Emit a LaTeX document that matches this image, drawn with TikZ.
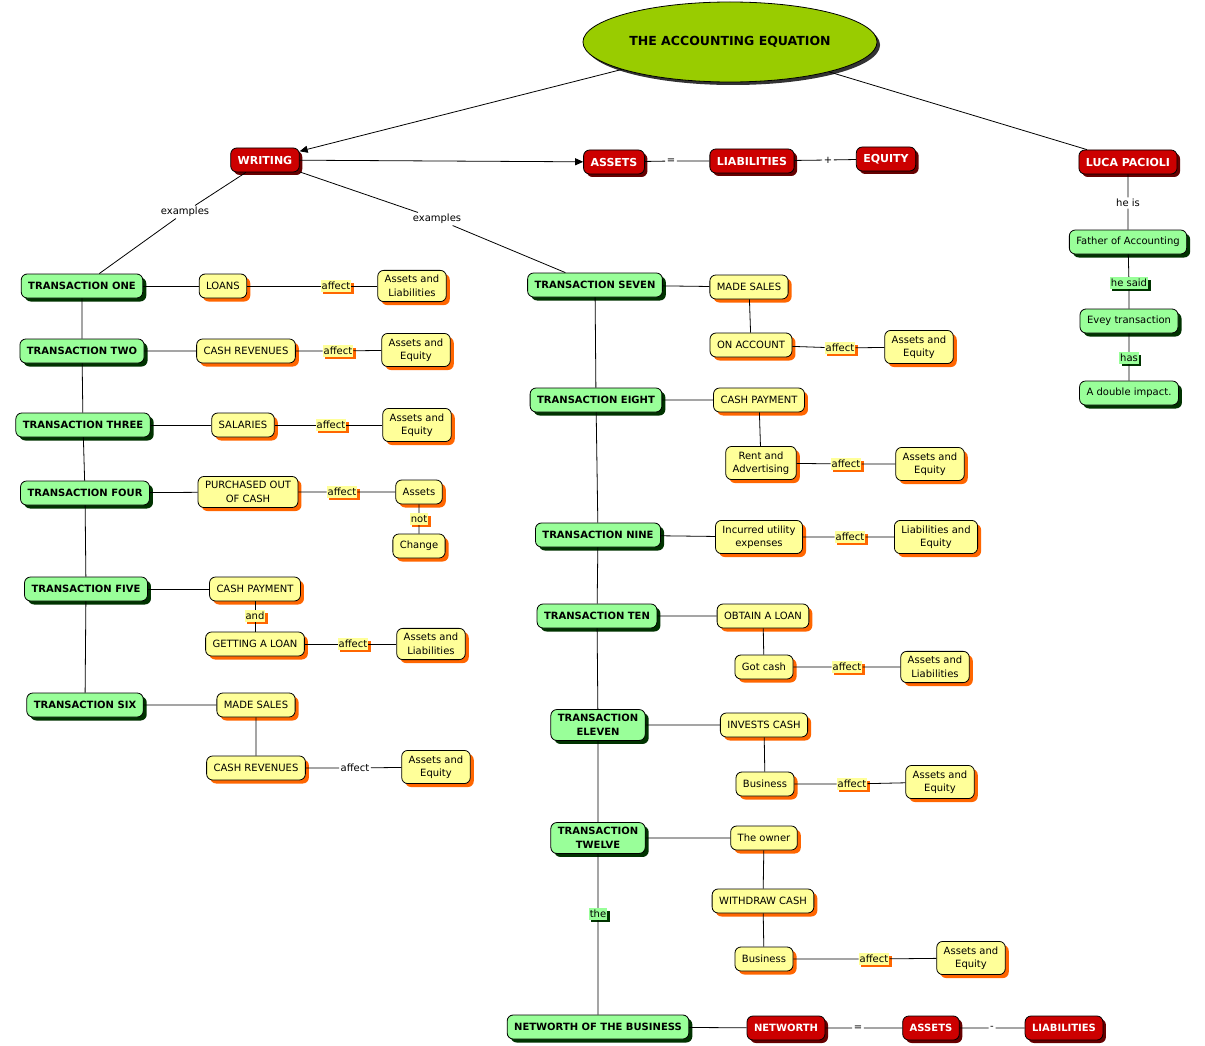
\documentclass[tikz,border=0pt]{standalone}
\usepackage{fontspec}
\setmainfont{DejaVu Sans}
\usetikzlibrary{arrows.meta,shadows,shapes.geometric,positioning}
\definecolor{redbox}{RGB}{204,0,0}
\definecolor{redshade}{RGB}{102,0,0}
\definecolor{greenbox}{RGB}{153,255,153}
\definecolor{greenshade}{RGB}{0,51,0}
\definecolor{yellowbox}{RGB}{255,255,153}
\definecolor{orangeshade}{RGB}{255,102,0}
\definecolor{titlegreen}{RGB}{153,204,0}
\newcommand{\boxround}{6pt}
\newcommand{\txt}{\fontsize{10}{13.5}\selectfont}
\tikzset{
  >={Triangle[length=8pt,width=7pt]},
  font=\txt,
  box/.style={draw,line width=0.8pt,rounded corners=\boxround,inner xsep=7pt,inner ysep=5pt,minimum height=24pt,align=center},
  red/.style={box,fill=redbox,text=white,font=\fontsize{11}{13}\selectfont\bfseries,drop shadow={fill=redshade,opacity=1,shadow xshift=3pt,shadow yshift=-3pt}},
  green/.style={box,fill=greenbox,font=\txt\bfseries,drop shadow={fill=greenshade,opacity=1,shadow xshift=3.5pt,shadow yshift=-3.5pt}},
  yellow/.style={box,fill=yellowbox,drop shadow={fill=orangeshade,opacity=1,shadow xshift=3.5pt,shadow yshift=-3.5pt}},
  affect/.style={fill=yellowbox,inner sep=1pt,text height=1.5ex,text depth=0.3ex,drop shadow={fill=orangeshade,opacity=1,shadow xshift=2.5pt,shadow yshift=-2.5pt}},
  said/.style={fill=greenbox,inner sep=1pt,text height=1.5ex,text depth=0.3ex,drop shadow={fill=greenshade,opacity=1,shadow xshift=2.5pt,shadow yshift=-2.5pt}},
  plain/.style={fill=white,inner sep=1.5pt},
  line/.style={draw,line width=0.8pt}
}
\begin{document}
\begin{tikzpicture}[x=1pt,y=-1pt]
  \useasboundingbox[fill=white] (0,0) rectangle (1205,1046);
  % top
  \node (title) [ellipse,draw,line width=0.8pt,fill=titlegreen,minimum width=288,minimum height=80,font=\fontsize{12.5}{14}\selectfont\bfseries,drop shadow={fill=black!80,opacity=1,shadow xshift=3pt,shadow yshift=-3pt}] at (730,42) {THE ACCOUNTING EQUATION};
  \node (writing) [red] at (265,160) {WRITING};
  \node (assets) [red] at (614,162) {ASSETS};
  \node (liab) [red] at (752,161) {LIABILITIES};
  \node (equity) [red] at (886,159) {EQUITY};
  \node (luca) [red] at (1128,162) {LUCA PACIOLI};
  \node (eq1) [plain] at (671,161) {=};
  \node (plus) [plain] at (828,160) {+};
  \path [line,->] (title) -- (writing);
  \path [line] (title) -- (luca);
  \path [line,->] (writing) -- (assets);
  \path [line] (assets) -- (eq1) -- (liab) -- (plus) -- (equity);
  \node (ex1) [plain] at (185,212) {examples};
  \node (ex2) [plain] at (437,219) {examples};
  % luca pacioli
  \node (heis) [plain] at (1128,203) {he is};
  \node (father) [green,font=\txt] at (1128,242) {Father of Accounting};
  \node (hesaid) [said] at (1129,283) {he said};
  \node (every) [green,font=\txt] at (1129,321) {Evey transaction};
  \node (has) [said] at (1129,358) {has};
  \node (double) [green,font=\txt] at (1129,393) {A double impact.};
  \path [line] (luca) -- (heis) -- (father) -- (hesaid) -- (every) -- (has) -- (double);
  % left column
  \node (t1) [green] at (82,286) {TRANSACTION ONE};
  \node (loans) [yellow] at (223,286) {LOANS};
  \node (a1) [affect] at (336,286) {affect};
  \node (r1) [yellow] at (412,286) {Assets and\\Liabilities};
  \node (t2) [green] at (82,351) {TRANSACTION TWO};
  \node (cashrev) [yellow] at (246,351) {CASH REVENUES};
  \node (a2) [affect] at (338,351) {affect};
  \node (r2) [yellow] at (416,350) {Assets and\\Equity};
  \node (t3) [green] at (83,425) {TRANSACTION THREE};
  \node (salaries) [yellow] at (243,425) {SALARIES};
  \node (a3) [affect] at (331,425) {affect};
  \node (r3) [yellow] at (417,425) {Assets and\\Equity};
  \node (t4) [green] at (85,493) {TRANSACTION FOUR};
  \node (purchased) [yellow] at (248,492) {PURCHASED OUT\\OF CASH};
  \node (a4) [affect] at (342,492) {affect};
  \node (r4) [yellow] at (419,492) {Assets};
  \node (not) [affect] at (419,519) {not};
  \node (change) [yellow] at (419,546) {Change};
  \node (t5) [green] at (86,589) {TRANSACTION FIVE};
  \node (cashpay) [yellow] at (255,589) {CASH PAYMENT};
  \node (and) [affect] at (255,616) {and};
  \node (getloan) [yellow] at (255,644) {GETTING A LOAN};
  \node (a5) [affect] at (353,644) {affect};
  \node (r5) [yellow] at (431,644) {Assets and\\Liabilities};
  \node (t6) [green] at (85,705) {TRANSACTION SIX};
  \node (madesales) [yellow] at (256,705) {MADE SALES};
  \node (cashrev2) [yellow] at (256,768) {CASH REVENUES};
  \node (a6) [plain] at (355,768) {affect};
  \node (r6) [yellow] at (436,767) {Assets and\\Equity};
  \path [line] (writing) -- (ex1) -- (t1);
  \path [line] (t1) -- (t2) -- (t3) -- (t4) -- (t5) -- (t6);
  \path [line] (t1) -- (loans) -- (a1) -- (r1);
  \path [line] (t2) -- (cashrev) -- (a2) -- (r2);
  \path [line] (t3) -- (salaries) -- (a3) -- (r3);
  \path [line] (t4) -- (purchased) -- (a4) -- (r4) -- (not) -- (change);
  \path [line] (t5) -- (cashpay) -- (and) -- (getloan) -- (a5) -- (r5);
  \path [line] (t6) -- (madesales) -- (cashrev2) -- (a6) -- (r6);
  % middle column
  \node (t7) [green] at (595,285) {TRANSACTION SEVEN};
  \node (madesales2) [yellow] at (749,287) {MADE SALES};
  \node (onaccount) [yellow] at (751,345) {ON ACCOUNT};
  \node (a7) [affect] at (840,348) {affect};
  \node (r7) [yellow] at (919,347) {Assets and\\Equity};
  \node (t8) [green] at (596,400) {TRANSACTION EIGHT};
  \node (cashpay2) [yellow] at (759,400) {CASH PAYMENT};
  \node (rent) [yellow] at (761,463) {Rent and\\Advertising};
  \node (a8) [affect] at (846,464) {affect};
  \node (r8) [yellow] at (930,464) {Assets and\\Equity};
  \node (t9) [green] at (598,535) {TRANSACTION NINE};
  \node (utility) [yellow] at (759,537) {Incurred utility\\expenses};
  \node (a9) [affect] at (850,537) {affect};
  \node (r9) [yellow] at (936,537) {Liabilities and\\Equity};
  \node (t10) [green] at (597,616) {TRANSACTION TEN};
  \node (obtain) [yellow] at (763,616) {OBTAIN A LOAN};
  \node (gotcash) [yellow] at (764,667) {Got cash};
  \node (a10) [affect] at (847,667) {affect};
  \node (r10) [yellow] at (935,667) {Assets and\\Liabilities};
  \node (t11) [green] at (598,725) {TRANSACTION\\ELEVEN};
  \node (invests) [yellow] at (764,725) {INVESTS CASH};
  \node (business) [yellow] at (765,784) {Business};
  \node (a11) [affect] at (852,784) {affect};
  \node (r11) [yellow] at (940,782) {Assets and\\Equity};
  \node (t12) [green] at (598,838) {TRANSACTION\\TWELVE};
  \node (owner) [yellow] at (764,838) {The owner};
  \node (withdraw) [yellow] at (763,901) {WITHDRAW CASH};
  \node (business2) [yellow] at (764,959) {Business};
  \node (a12) [affect] at (874,959) {affect};
  \node (r12) [yellow] at (971,958) {Assets and\\Equity};
  \node (the) [said] at (598,914) {the};
  \node (networthof) [green] at (598,1027) {NETWORTH OF THE BUSINESS};
  \node (networth) [red,font=\txt\bfseries] at (786,1028) {NETWORTH};
  \node (eq2) [plain] at (858,1028) {=};
  \node (assets2) [red,font=\txt\bfseries] at (931,1028) {ASSETS};
  \node (minus) [plain] at (992,1028) {-};
  \node (liab2) [red,font=\txt\bfseries] at (1064,1028) {LIABILITIES};
  \path [line] (writing) -- (ex2) -- (t7);
  \path [line] (t7) -- (t8) -- (t9) -- (t10) -- (t11) -- (t12) -- (the) -- (networthof);
  \path [line] (t7) -- (madesales2) -- (onaccount) -- (a7) -- (r7);
  \path [line] (t8) -- (cashpay2) -- (rent) -- (a8) -- (r8);
  \path [line] (t9) -- (utility) -- (a9) -- (r9);
  \path [line] (t10) -- (obtain) -- (gotcash) -- (a10) -- (r10);
  \path [line] (t11) -- (invests) -- (business) -- (a11) -- (r11);
  \path [line] (t12) -- (owner) -- (withdraw) -- (business2) -- (a12) -- (r12);
  \path [line] (networthof) -- (networth) -- (eq2) -- (assets2) -- (minus) -- (liab2);
\end{tikzpicture}
\end{document}
